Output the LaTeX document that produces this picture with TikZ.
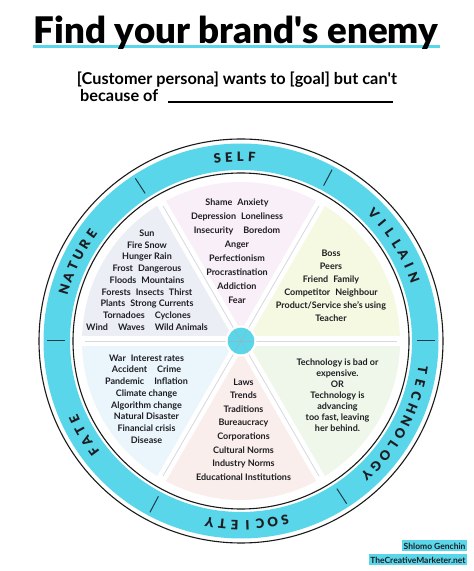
\documentclass[tikz,border=0pt]{standalone}
\usepackage{fontspec}
\setmainfont{Lato}
\newfontfamily\titlefont{Lato Black}
\usepackage{graphicx}
\definecolor{cy}{HTML}{5AD6EA}
\definecolor{selfc}{HTML}{F8EFF8}
\definecolor{villc}{HTML}{F6F9E2}
\definecolor{techc}{HTML}{EEF7EA}
\definecolor{socc}{HTML}{F9EEEC}
\definecolor{fatec}{HTML}{EAF6FB}
\definecolor{natc}{HTML}{ECEEF6}
\definecolor{divc}{HTML}{D6D8E0}
\definecolor{txt}{HTML}{1E1E22}
\definecolor{ringline}{HTML}{1A1A1A}
\definecolor{tickc}{HTML}{1F3C48}
\definecolor{hubl}{HTML}{8FB9C4}
\newcommand\gp{\hspace{5pt}}
\newcommand\ringword[5]{%
  \foreach \ch [count=\i] in {#5} {%
    \pgfmathsetmacro\ang{#2-(\i-(#4+1)/2)*#3}%
    \node[ringtxt, rotate=\ang-90] (#1\i) at ([shift={(\ang:184)}]C) {\ch};
  }}
\tikzset{
  sect/.style={align=center, font=\bfseries\fontsize{9}{#1}\selectfont, text=txt, inner sep=0pt},
  ringtxt/.style={font=\titlefont\fontsize{13}{14}\selectfont, text=txt, inner sep=0pt, anchor=center},
  credit/.style={fill=cy, text=txt, font=\bfseries\fontsize{8.5}{9}\selectfont, inner sep=1.3pt, anchor=east, minimum height=11pt},
}
\begin{document}
\begin{tikzpicture}[x=1pt,y=1pt]
\useasboundingbox (0,0) rectangle (474,571);
\fill[white] (0,0) rectangle (474,571);
\coordinate (C) at (241,230);

% title
\draw[cy, line width=2.4pt] (33,524.3) -- (440,524.3);
\node[anchor=base, inner sep=0pt, text=black] (title) at (236,527.7) {\resizebox{404pt}{!}{\titlefont Find your brand\textquotesingle s enemy}};
\node[anchor=base, inner sep=0pt, text=black] (sub1) at (237,486) {\resizebox{320pt}{!}{\bfseries [Customer persona] wants to [goal] but can\textquotesingle t}};
\node[anchor=base west, inner sep=0pt, text=black] (sub2) at (80,469) {\resizebox{78pt}{!}{\bfseries because of}};
\coordinate (ul1) at (168,469);
\coordinate (ul2) at (393,469);
\draw[line width=1.2pt] (ul1) -- (ul2);

% wedges
\fill[villc] (C) -- ++(0:159) arc[start angle=0, end angle=60, radius=159] -- cycle;
\fill[selfc] (C) -- ++(60:159) arc[start angle=60, end angle=120, radius=159] -- cycle;
\fill[natc] (C) -- ++(120:159) arc[start angle=120, end angle=180, radius=159] -- cycle;
\fill[fatec] (C) -- ++(180:159) arc[start angle=180, end angle=240, radius=159] -- cycle;
\fill[socc] (C) -- ++(240:159) arc[start angle=240, end angle=300, radius=159] -- cycle;
\fill[techc] (C) -- ++(300:159) arc[start angle=300, end angle=360, radius=159] -- cycle;
\foreach \a in {0,60,...,300} \draw[white, line width=10pt] (C) -- ++(\a:161);
\foreach \a in {0,60,...,300} \draw[divc, line width=0.8pt] (C) -- ++(\a:156);

% hub
\fill[white] (C) circle (15.5);
\fill[cy] (C) circle (13.3);
\foreach \a in {0,60,...,300} \draw[hubl, line width=0.6pt] (C) -- ++(\a:13.3);

% ring
\fill[cy, even odd rule] (C) circle (197.5) (C) circle (171);
\draw[ringline, line width=1.1pt] (C) circle (202);
\draw[ringline, line width=1.1pt] (C) circle (168);
\foreach \a in {0,62,123,180,242,303} \draw[tickc, line width=1pt] (C) ++(\a:176) -- ++(\a:18);

\ringword{self}{92}{3.6}{4}{S,E,L,F}
\ringword{vil}{32}{3.95}{7}{V,I,L,L,A,I,N}
\ringword{tech}{-28}{4.2}{10}{T,E,C,H,N,O,L,O,G,Y}
\ringword{soc}{272}{3.95}{7}{S,O,C,I,E,T,Y}
\ringword{fate}{211}{3.9}{4}{F,A,T,E}
\ringword{nat}{154}{3.9}{6}{N,A,T,U,R,E}

% sector texts
\node[sect=14] (selftxt) at (237,320) {Shame\gp Anxiety\\Depression\gp Loneliness\\Insecurity\gp\gp Boredom\\Anger\\Perfectionism\\Procrastination\\Addiction\\Fear};
\node[sect=11.75] (nattxt) at (147,291) {Sun\\Fire Snow\\Hunger Rain\\Frost\gp Dangerous\\Floods\gp Mountains\\Forests\gp Insects\gp Thirst\\Plants\gp Strong Currents\\Tornadoes\gp\gp Cyclones\\Wind\gp\gp Waves\gp\gp Wild Animals};
\node[sect=13] (viltxt) at (331,285.5) {Boss\\Peers\\Friend\gp Family\\Competitor\gp Neighbour\\Product/Service she’s using\\Teacher};
\node[sect=11.7] (fatetxt) at (146.5,172) {War\gp Interest rates\\Accident\gp\gp Crime\\Pandemic\gp\gp Inflation\\Climate change\\Algorithm change\\Natural Disaster\\Financial crisis\\Disease};
\node[sect=11] (techtxt) at (337.5,176) {Technology is bad or\\expensive.\\OR\\Technology is\\advancing\\too fast, leaving\\her behind.};
\node[sect=13.6] (soctxt) at (243.5,141.5) {Laws\\Trends\\Traditions\\Bureaucracy\\Corporations\\Cultural Norms\\Industry Norms\\Educational Institutions};

% credits
\node[credit] (cr1) at (467,25) {Shlomo Genchin};
\node[credit] (cr2) at (467,11) {TheCreativeMarketer.net};
\end{tikzpicture}
\end{document}
